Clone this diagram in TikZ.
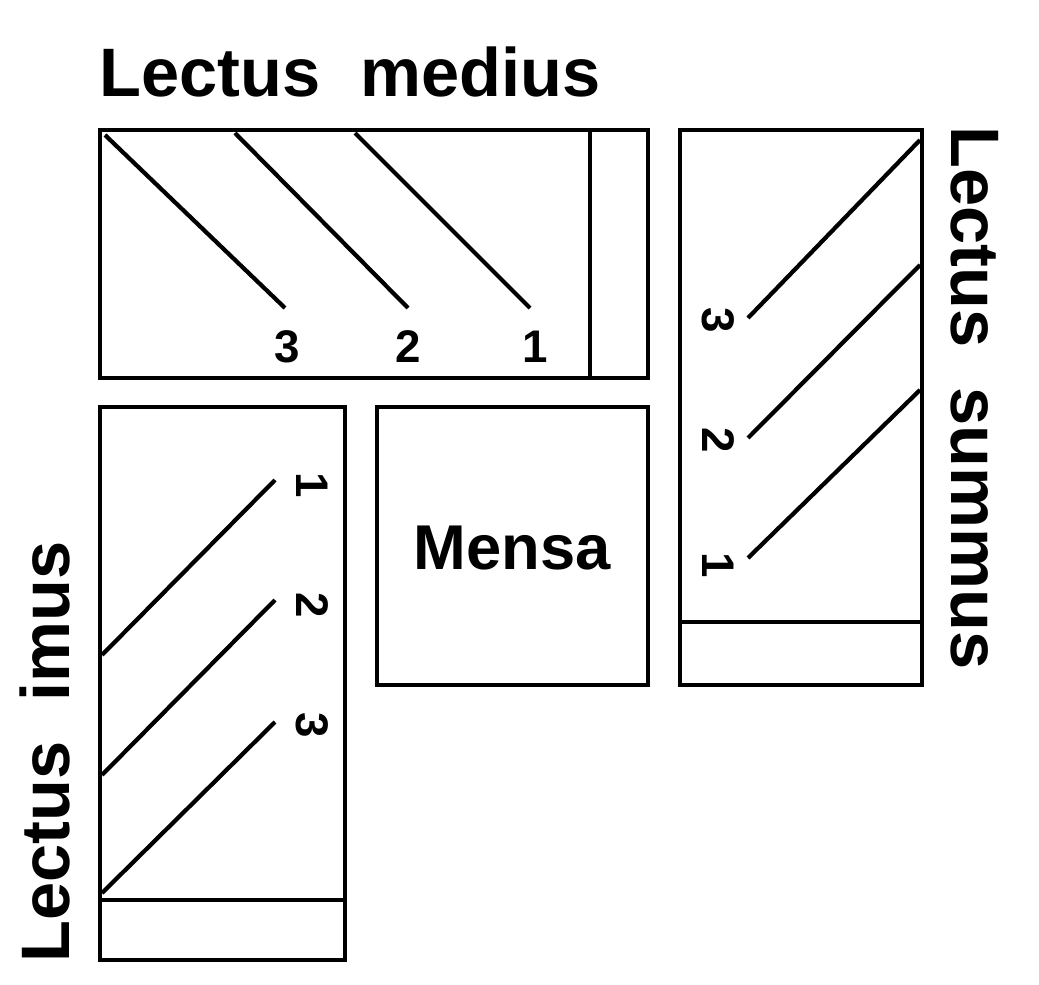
\documentclass[tikz,border=0pt]{standalone}
\usepackage{fontspec}
\setmainfont{Liberation Sans}
\begin{document}
\begin{tikzpicture}[x=0.01cm,y=-0.01cm,line width=1.2pt,
  lbl/.style={font=\bfseries\fontsize{19.5}{23}\selectfont},
  num/.style={font=\bfseries\fontsize{13}{15}\selectfont}]
\useasboundingbox (0,0) rectangle (1039,985);
% medius
\draw[line width=1.3pt] (100,130) rectangle (648,378);
\draw (590,130) -- (590,378);
\coordinate (m1a) at (105,135); \coordinate (m1b) at (285,308);
\coordinate (m2a) at (235,133); \coordinate (m2b) at (408,308);
\coordinate (m3a) at (355,133); \coordinate (m3b) at (530,308);
\draw (m1a)--(m1b); \draw (m2a)--(m2b); \draw (m3a)--(m3b);
\node[num] (n3) at (287,347) {3};
\node[num] (n2) at (408,347) {2};
\node[num] (n1) at (535,347) {1};
\node[lbl] (tmed) at (350,72) {Lectus\hspace{0.3em} medius};
% summus
\draw[line width=1.3pt] (680,130) rectangle (922,685);
\draw (680,622) -- (922,622);
\draw (920,140)--(748,318); \draw (920,265)--(748,438); \draw (920,390)--(748,558);
\node[num,rotate=-90] (s3) at (718,320) {3};
\node[num,rotate=-90] (s2) at (718,440) {2};
\node[num,rotate=-90] (s1) at (718,565) {1};
\node[lbl,rotate=-90] (tsum) at (975,398) {Lectus\hspace{0.3em} summus};
% imus
\draw[line width=1.3pt] (100,407) rectangle (345,960);
\draw (100,900) -- (345,900);
\draw (102,655)--(275,480); \draw (102,775)--(275,600); \draw (102,893)--(275,722);
\node[num,rotate=-90] (i1) at (312,485) {1};
\node[num,rotate=-90] (i2) at (312,605) {2};
\node[num,rotate=-90] (i3) at (312,725) {3};
\node[lbl,rotate=90] (tim) at (45,752) {Lectus\hspace{0.3em} imus};
% mensa
\draw[line width=1.3pt] (377,407) rectangle (648,685);
\node[lbl,font=\bfseries\fontsize{18}{22}\selectfont] (mensa) at (512,548) {Mensa};
\end{tikzpicture}
\end{document}
